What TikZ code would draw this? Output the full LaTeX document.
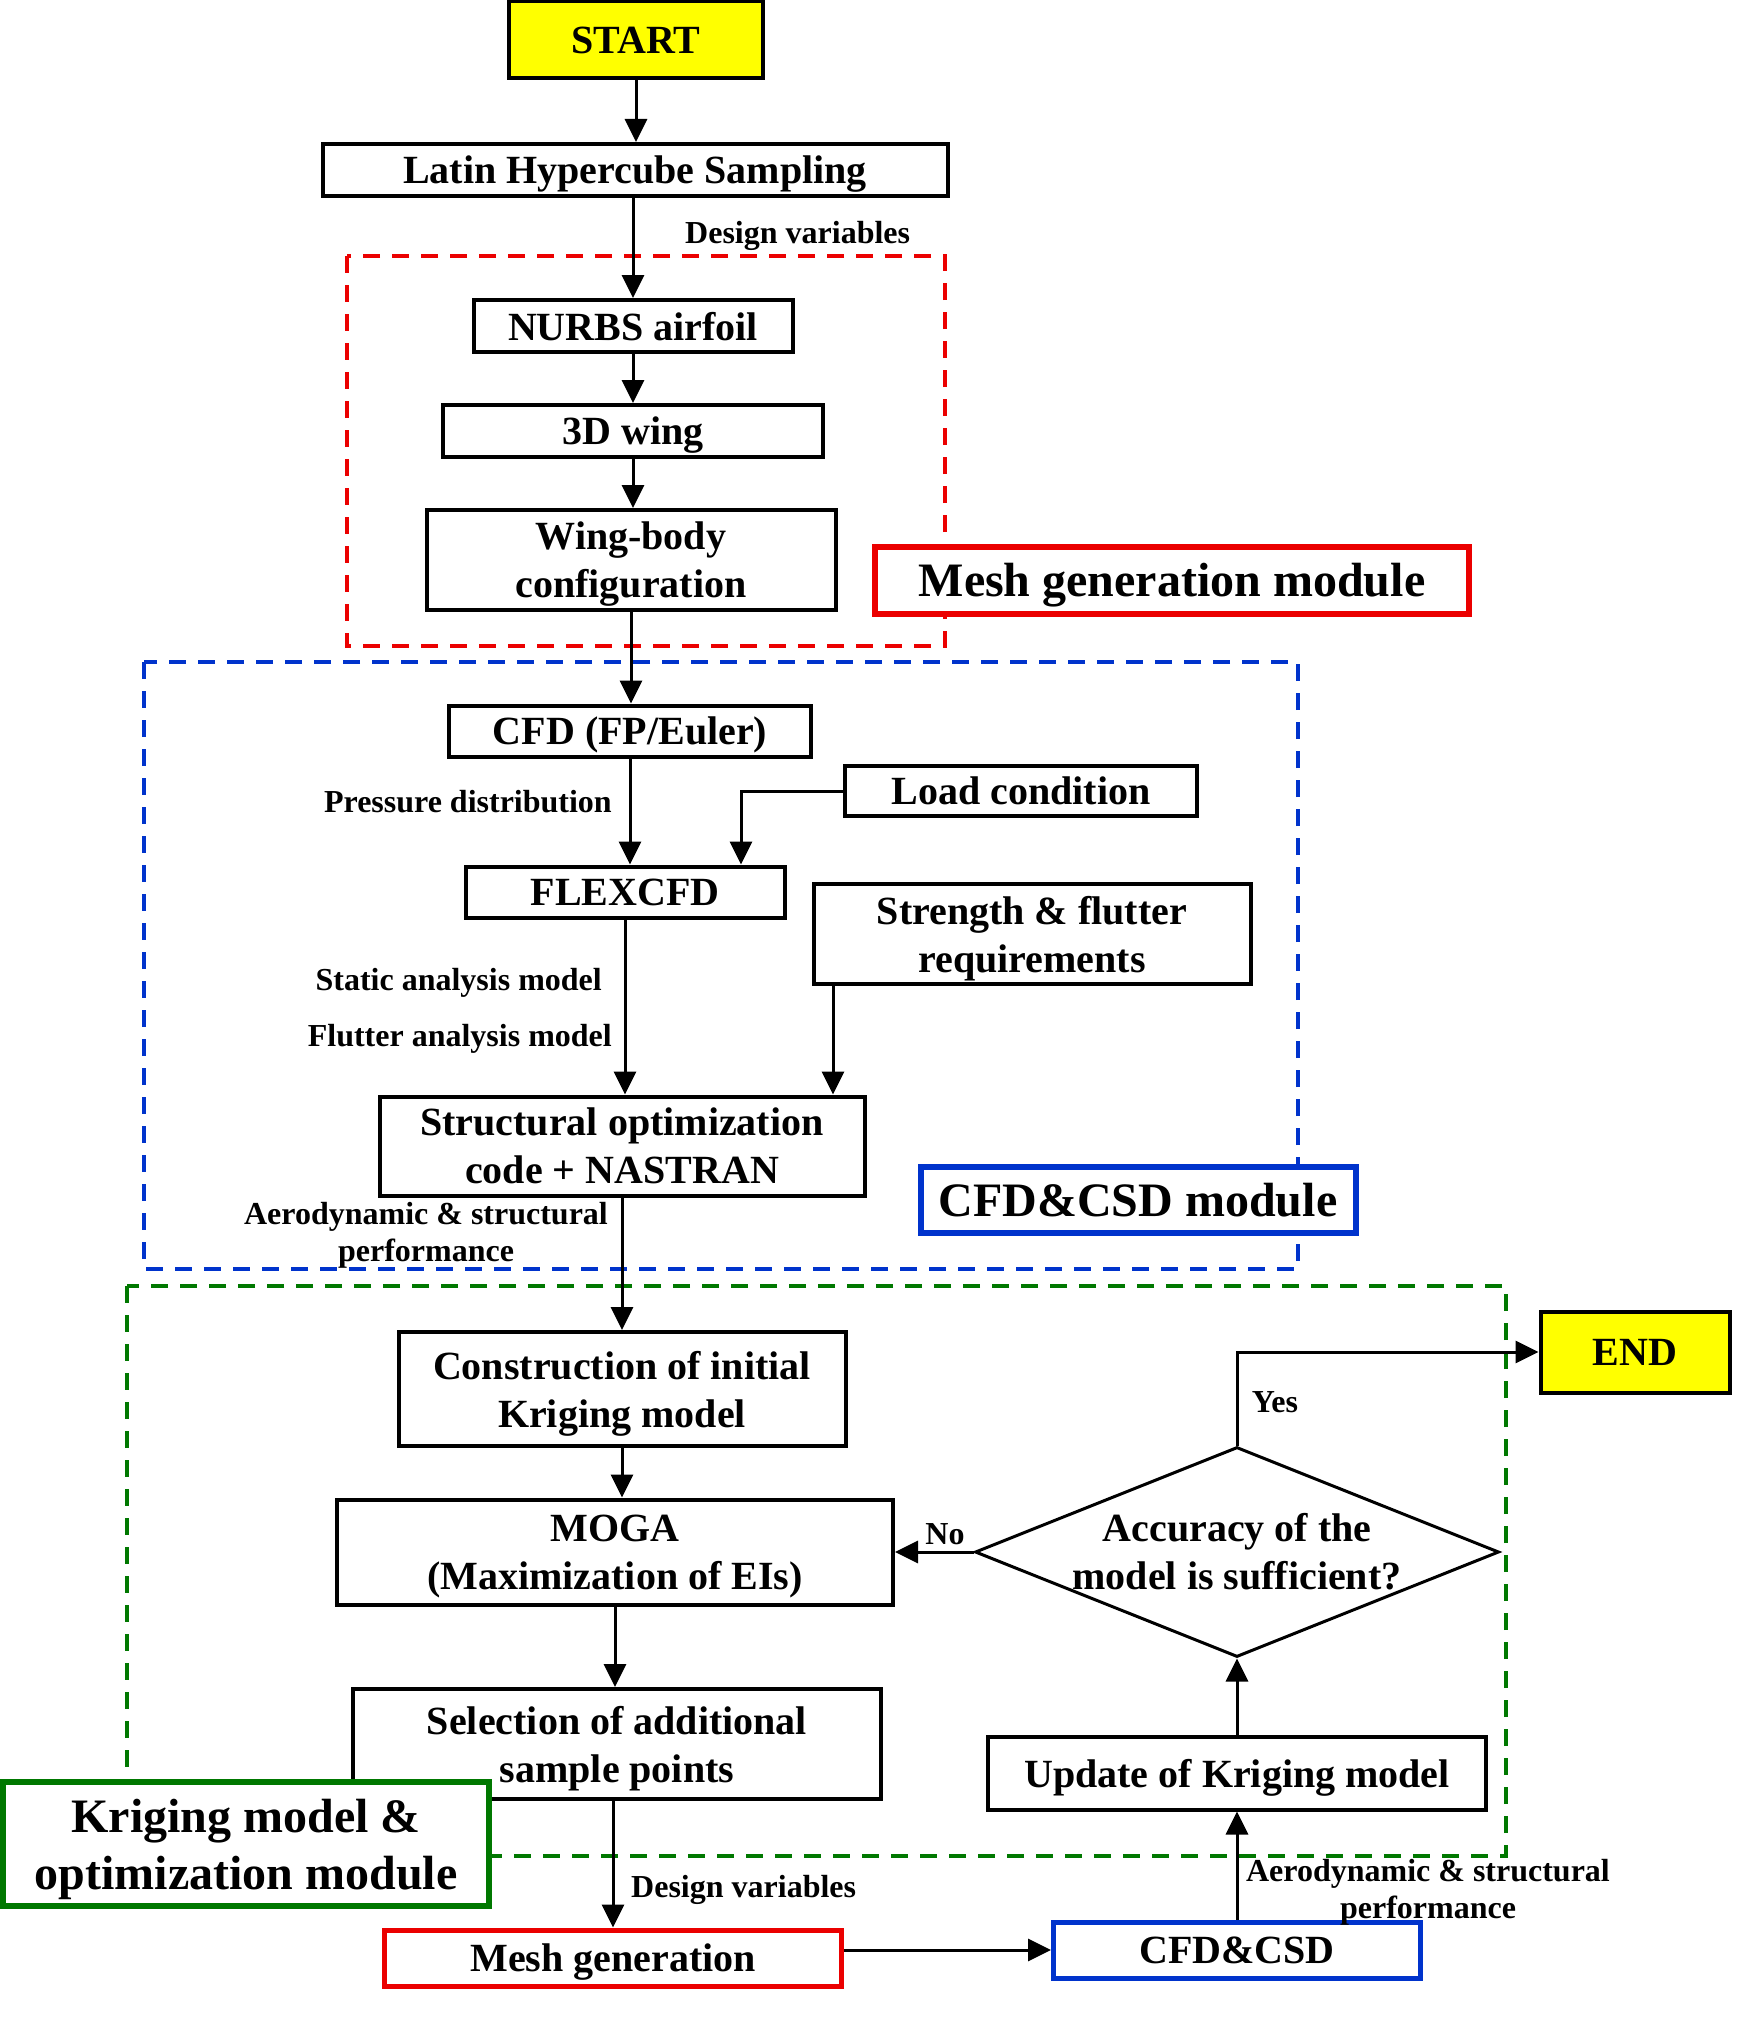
\documentclass[tikz,border=0pt]{standalone}
\usepackage{fontspec}
\setmainfont{Liberation Serif}
\usepackage{xcolor}
\usepackage{tikz}
\usetikzlibrary{arrows.meta,shapes.geometric,calc}
\definecolor{termyellow}{RGB}{255,255,0}
\definecolor{meshred}{RGB}{235,0,0}
\definecolor{cfdblue}{RGB}{0,51,204}
\definecolor{kriggreen}{RGB}{0,120,0}
\tikzstyle{box}=[fill=white, draw=black, line width=4pt, shape=rectangle, inner sep=0pt, text depth=0pt, align=center, font=\fontsize{40}{48}\selectfont\bfseries]
\tikzstyle{terminal}=[box, fill=termyellow]
\tikzstyle{decision}=[fill=white, draw=black, shape=diamond, line width=3pt, aspect=2.5, inner sep=-12pt, align=center, font=\fontsize{40}{48}\selectfont\bfseries]
\tikzstyle{module}=[box, line width=6pt, font=\fontsize{48}{57}\selectfont\bfseries]
\tikzstyle{tag}=[inner sep=0pt, text depth=0pt, align=center, font=\fontsize{32}{37}\selectfont\bfseries]
\tikzstyle{flow edge}=[-{Triangle[length=23pt, width=22pt]}, draw=black, line width=3pt]
\tikzstyle{frame}=[line width=4pt, dash pattern=on 17pt off 12pt]
\pgfdeclarelayer{framelayer}
\pgfdeclarelayer{edgelayer}
\pgfdeclarelayer{nodelayer}
\pgfsetlayers{framelayer,edgelayer,nodelayer,main}

\begin{document}
\begin{tikzpicture}[x=1pt, y=-1pt]
	\useasboundingbox (0, 0) rectangle (1759, 2036);
	\begin{pgfonlayer}{framelayer}
		\draw [style=frame, draw=meshred] (347, 256) rectangle (945, 646);
		\draw [style=frame, draw=cfdblue] (144, 662) rectangle (1298, 1269);
		\draw [style=frame, draw=kriggreen] (127, 1286) rectangle (1506, 1856);
	\end{pgfonlayer}
	\begin{pgfonlayer}{nodelayer}
		\node [style=terminal, minimum width=254pt, minimum height=77pt] (0) at (636, 40) {START};
		\node [style=box, minimum width=625pt, minimum height=52pt] (1) at (635, 170) {Latin Hypercube Sampling};
		\node [style=box, minimum width=319pt, minimum height=52pt] (2) at (633, 326) {NURBS airfoil};
		\node [style=box, minimum width=380pt, minimum height=52pt] (3) at (633, 431) {3D wing};
		\node [style=box, minimum width=409pt, minimum height=100pt] (4) at (631, 560) {Wing-body\\configuration};
		\node [style=box, minimum width=362pt, minimum height=51pt] (5) at (630, 731) {CFD (FP/Euler)};
		\node [style=box, minimum width=352pt, minimum height=50pt] (6) at (1021, 791) {Load condition};
		\node [style=box, minimum width=319pt, minimum height=51pt] (7) at (625, 892) {FLEXCFD};
		\node [style=box, minimum width=437pt, minimum height=100pt] (8) at (1032, 934) {Strength \& flutter\\requirements};
		\node [style=box, minimum width=485pt, minimum height=99pt] (9) at (622, 1146) {Structural optimization\\code + NASTRAN};
		\node [style=box, minimum width=447pt, minimum height=114pt] (10) at (622, 1389) {Construction of initial\\Kriging model};
		\node [style=box, minimum width=556pt, minimum height=105pt] (11) at (615, 1552) {MOGA\\(Maximization of EIs)};
		\node [style=box, minimum width=528pt, minimum height=110pt] (12) at (617, 1744) {Selection of additional\\sample points};
		\node [style=decision, minimum width=524pt, minimum height=210pt] (13) at (1237, 1552) {Accuracy of the\\model is sufficient?};
		\node [style=terminal, minimum width=189pt, minimum height=81pt] (14) at (1635, 1352) {END};
		\node [style=box, minimum width=498pt, minimum height=73pt] (15) at (1237, 1773) {Update of Kriging model};
		\node [style=box, draw=meshred, line width=5pt, minimum width=457pt, minimum height=56pt] (16) at (613, 1958) {Mesh generation};
		\node [style=box, draw=cfdblue, line width=5pt, minimum width=367pt, minimum height=56pt] (17) at (1237, 1950) {CFD\&CSD};
		\node [style=module, draw=meshred, minimum width=594pt, minimum height=67pt] (18) at (1172, 580) {Mesh generation module};
		\node [style=module, draw=cfdblue, minimum width=435pt, minimum height=66pt] (19) at (1138, 1200) {CFD\&CSD module};
		\node [style=module, draw=kriggreen, minimum width=486pt, minimum height=124pt] (20) at (246, 1844) {Kriging model \&\\optimization module};
		\node [style=tag, anchor=west] (21) at (685, 232) {Design variables};
		\node [style=tag, anchor=east] (22) at (612, 801) {Pressure distribution};
		\node [style=tag, anchor=east] (23) at (602, 979) {Static analysis model};
		\node [style=tag, anchor=east] (24) at (612, 1035) {Flutter analysis model};
		\node [style=tag] (25) at (426, 1232) {Aerodynamic \& structural\\performance};
		\node [style=tag] (26) at (945, 1534) {No};
		\node [style=tag] (27) at (1275, 1402) {Yes};
		\node [style=tag, anchor=west] (28) at (631, 1886) {Design variables};
		\node [style=tag] (29) at (1428, 1889) {Aerodynamic \& structural\\performance};
	\end{pgfonlayer}
	\begin{pgfonlayer}{edgelayer}
		\draw [style=flow edge] (0.south) -- (0.south |- 1.north);
		\draw [style=flow edge] (1.south -| 2.north) -- (2.north);
		\draw [style=flow edge] (2.south) -- (2.south |- 3.north);
		\draw [style=flow edge] (3.south) -- (3.south |- 4.north);
		\draw [style=flow edge] (4.south) -- (4.south |- 5.north);
		\draw [style=flow edge] (5.south) -- (5.south |- 7.north);
		\draw [style=flow edge] (6.west) -| ($(7.north)+(116, 0)$);
		\draw [style=flow edge] (7.south) -- (7.south |- 9.north);
		\draw [style=flow edge] (833, 0 |- 8.south) -- (833, 0 |- 9.north);
		\draw [style=flow edge] (9.south) -- (9.south |- 10.north);
		\draw [style=flow edge] (10.south) -- (10.south |- 11.north);
		\draw [style=flow edge] (11.south) -- (11.south |- 12.north);
		\draw [style=flow edge] (12.south -| 16.north) -- (16.north);
		\draw [style=flow edge] (16.east |- 17.west) -- (17.west);
		\draw [style=flow edge] (17.north) -- (15.south);
		\draw [style=flow edge] (15.north) -- (13.south);
		\draw [style=flow edge] (13.west) -- (11.east);
		\draw [style=flow edge] (13.north) |- (14.west);
	\end{pgfonlayer}
\end{tikzpicture}
\end{document}
